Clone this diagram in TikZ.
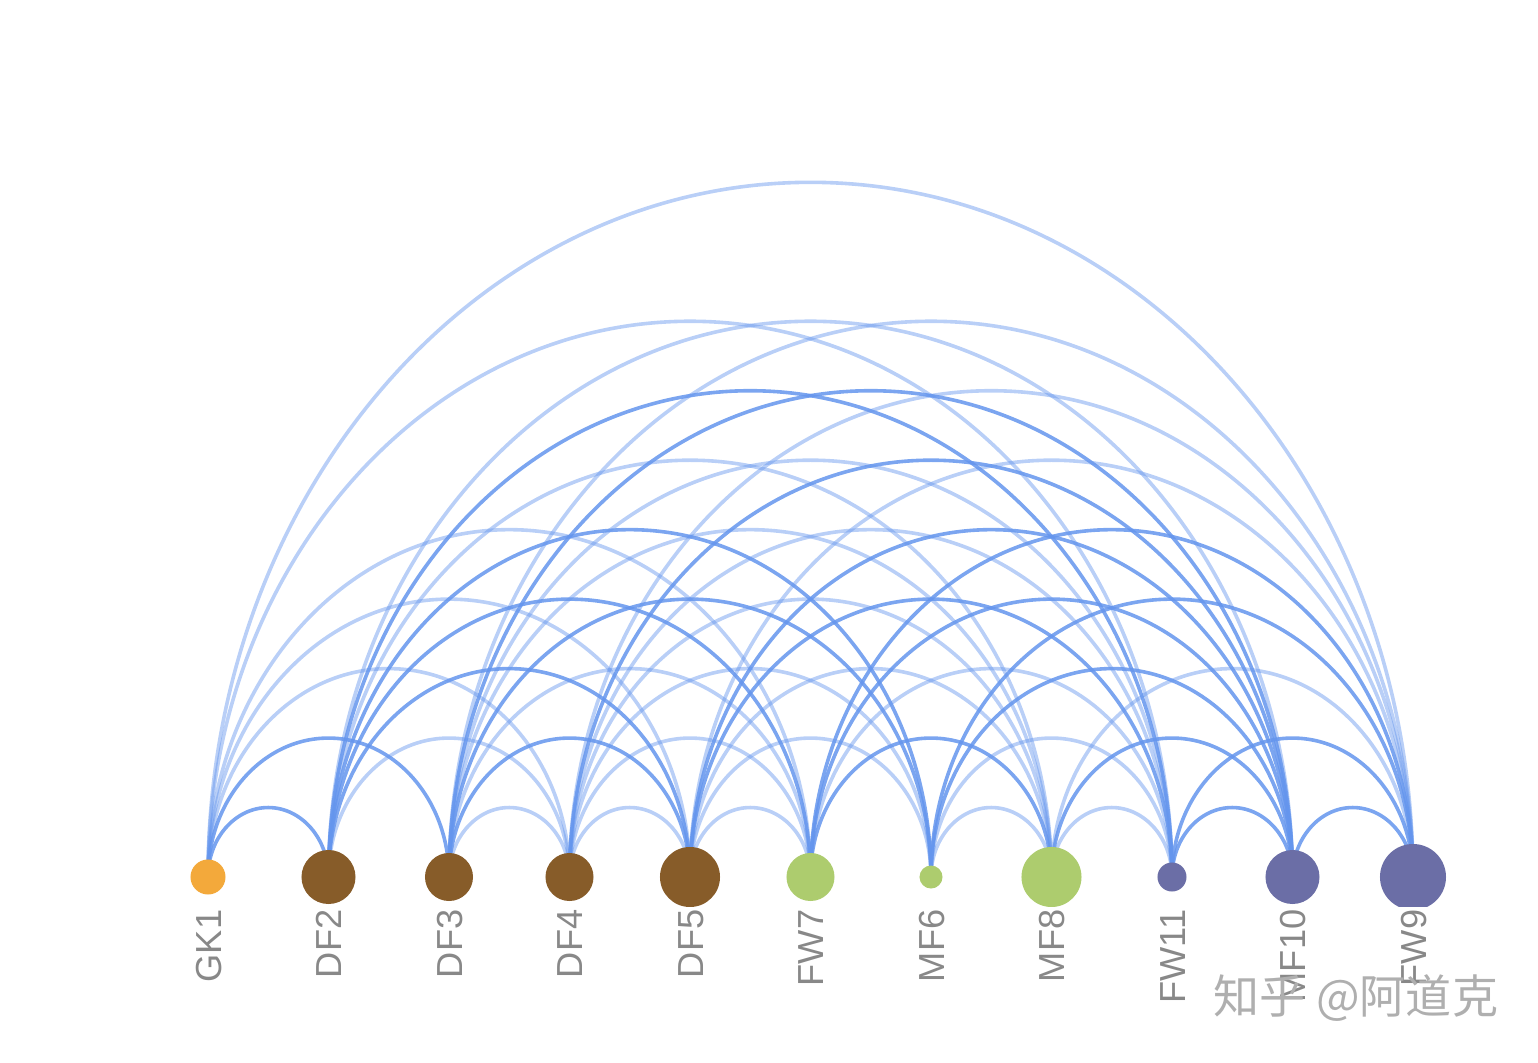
\documentclass[tikz,border=0pt]{standalone}
\usepackage{fontspec}
\setmainfont{Liberation Sans}
\newfontfamily\cjkfont{Noto Sans CJK SC}
\definecolor{arcblue}{RGB}{100,149,237}
\definecolor{gkorange}{RGB}{243,169,59}
\definecolor{dfbrown}{RGB}{135,92,41}
\definecolor{mfgreen}{RGB}{173,204,110}
\definecolor{fwpurple}{RGB}{107,110,166}
\definecolor{labgray}{RGB}{136,136,136}
\definecolor{wmgray}{RGB}{175,175,175}
\begin{document}
\begin{tikzpicture}[x=0.01cm,y=0.01cm,
  edgedark/.style={draw=arcblue,draw opacity=0.85,line width=0.036cm},
  edgelight/.style={draw=arcblue,draw opacity=0.45,line width=0.036cm},
  player/.style={circle,inner sep=0pt,draw=none},
  lab/.style={rotate=90,anchor=base east,inner sep=0pt,text=labgray,font=\fontsize{10.3pt}{12pt}\selectfont}
]
\useasboundingbox (0,0) rectangle (1538,1062);
% anchor points at node centres
\foreach \k in {0,...,10}{
  \coordinate (p\k) at ({208+120.5*\k},185);
}
% arcs
\foreach \i/\j/\s in {
  0/1/edgedark, 2/3/edgelight, 3/4/edgelight, 4/5/edgelight, 6/7/edgelight, 7/8/edgelight, 8/9/edgedark, 9/10/edgedark,
  0/2/edgedark, 1/3/edgelight, 2/4/edgedark, 3/5/edgelight, 4/6/edgelight, 5/7/edgedark, 6/8/edgelight, 7/9/edgedark, 8/10/edgedark,
  0/3/edgelight, 1/4/edgedark, 2/5/edgelight, 3/6/edgelight, 4/7/edgelight, 5/8/edgelight, 6/9/edgedark, 7/10/edgelight,
  0/4/edgelight, 1/5/edgedark, 2/6/edgedark, 3/7/edgelight, 4/8/edgedark, 5/9/edgedark, 6/10/edgedark,
  0/5/edgelight, 1/6/edgedark, 2/7/edgelight, 3/8/edgelight, 4/9/edgedark, 5/10/edgedark,
  1/7/edgelight, 2/8/edgelight, 3/9/edgedark, 4/10/edgelight,
  1/8/edgedark, 2/9/edgedark, 3/10/edgelight,
  0/8/edgelight, 1/9/edgelight, 2/10/edgelight,
  0/10/edgelight}{
  \pgfmathsetmacro\rx{60.25*(\j-\i)}
  \pgfmathsetmacro\ry{1.153*\rx}
  \draw[\s] (p\i) arc[start angle=180,end angle=0,x radius=\rx,y radius=\ry];
}
% player circles (clipped at the plot bottom)
\begin{scope}
\clip (0,156) rectangle (1538,1062);
\node[player,fill=gkorange,minimum size=0.35cm] (n0) at (p0) {};
\node[player,fill=dfbrown,minimum size=0.54cm] (n1) at (p1) {};
\node[player,fill=dfbrown,minimum size=0.48cm] (n2) at (p2) {};
\node[player,fill=dfbrown,minimum size=0.48cm] (n3) at (p3) {};
\node[player,fill=dfbrown,minimum size=0.60cm] (n4) at (p4) {};
\node[player,fill=mfgreen,minimum size=0.48cm] (n5) at (p5) {};
\node[player,fill=mfgreen,minimum size=0.23cm] (n6) at (p6) {};
\node[player,fill=mfgreen,minimum size=0.60cm] (n7) at (p7) {};
\node[player,fill=fwpurple,minimum size=0.29cm] (n8) at (p8) {};
\node[player,fill=fwpurple,minimum size=0.54cm] (n9) at (p9) {};
\node[player,fill=fwpurple,minimum size=0.66cm] (n10) at (p10) {};
\end{scope}
% labels
\foreach \k/\t in {0/GK1,1/DF2,2/DF3,3/DF4,4/DF5,5/FW7,6/MF6,7/MF8,8/FW11,9/MF10,10/FW9}{
  \node[lab] (l\k) at ({208+120.5*\k+13},153) {\t};
}
% watermark
\node[text=wmgray,inner sep=0pt,font=\cjkfont\fontsize{13.1pt}{15pt}\selectfont] (wm) at (1356,64) {知乎 @阿道克};
\end{tikzpicture}
\end{document}
